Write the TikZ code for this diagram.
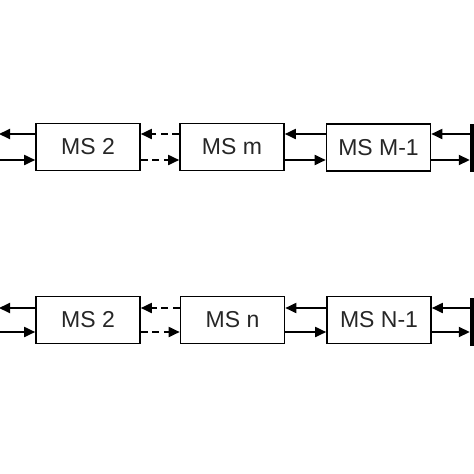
\documentclass[tikz,border=0pt]{standalone}
\usepackage{fontspec}
\setmainfont{Liberation Sans}
\usetikzlibrary{arrows.meta}
\tikzset{
  msbox/.style={draw, line width=1.6pt, minimum width=104pt, minimum height=47pt, inner sep=0pt,
    font=\fontsize{23}{27}\selectfont, text=black!85},
  arr/.style={line width=1.8pt, -{Triangle[length=11pt,width=10pt]}},
  darr/.style={arr, dash pattern=on 7pt off 4.5pt},
  endbar/.style={fill=black, draw=none, minimum width=5pt, minimum height=48pt, inner sep=0pt}
}
\begin{document}
\begin{tikzpicture}[x=1pt,y=-1pt]
\useasboundingbox (0,0) rectangle (474,474);
% top row
\node[msbox] (a2) at (88,147) {MS 2};
\node[msbox] (am) at (232,147) {MS m};
\node[msbox] (aM) at (378.5,147.5) {MS M-1};
\node[endbar] (abar) at (472.5,148) {};
\coordinate (aL1) at (-1,134);
\coordinate (aL2) at (-4,160);
\draw[arr] (a2.west |- aL1) -- (aL1);
\draw[arr] (aL2) -- (a2.west |- aL2);
\draw[darr] (am.west |- aL1) -- (a2.east |- aL1);
\draw[darr] (a2.east |- aL2) -- (am.west |- aL2);
\draw[arr] (aM.west |- aL1) -- (am.east |- aL1);
\draw[arr] (am.east |- aL2) -- (aM.west |- aL2);
\draw[arr] (abar.west |- aL1) -- (aM.east |- aL1);
\draw[arr] (aM.east |- aL2) -- (abar.west |- aL2);
% bottom row
\node[msbox] (b2) at (88,320) {MS 2};
\node[msbox] (bn) at (232.5,320) {MS n};
\node[msbox] (bN) at (379,320) {MS N-1};
\node[endbar] (bbar) at (472.5,321.5) {};
\coordinate (bL1) at (-1,308);
\coordinate (bL2) at (-4,332);
\draw[arr] (b2.west |- bL1) -- (bL1);
\draw[arr] (bL2) -- (b2.west |- bL2);
\draw[darr] (bn.west |- bL1) -- (b2.east |- bL1);
\draw[darr] (b2.east |- bL2) -- (bn.west |- bL2);
\draw[arr] (bN.west |- bL1) -- (bn.east |- bL1);
\draw[arr] (bn.east |- bL2) -- (bN.west |- bL2);
\draw[arr] (bbar.west |- bL1) -- (bN.east |- bL1);
\draw[arr] (bN.east |- bL2) -- (bbar.west |- bL2);
\end{tikzpicture}
\end{document}
